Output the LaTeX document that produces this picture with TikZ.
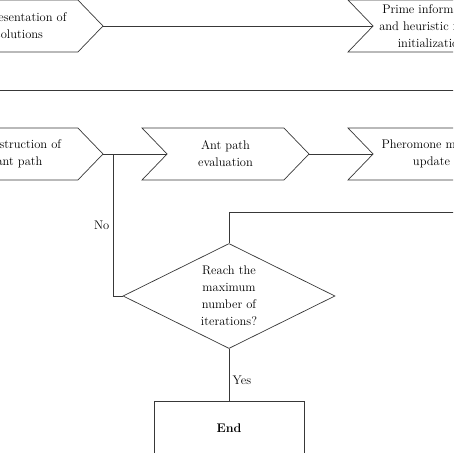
\documentclass[tikz,border=0pt]{standalone}
\usetikzlibrary{shapes.symbols, shapes.geometric}

\tikzset{
  ln/.style={draw=black!78, line width=0.7pt},
  chev/.style={signal, signal to=east, signal from=west, signal pointer angle=92,
    ln, minimum width=167pt, minimum height=52pt, inner sep=0pt, align=center},
  dec/.style={diamond, aspect=2, ln, minimum width=212pt, minimum height=105pt,
    inner sep=0pt, align=center},
  endbox/.style={rectangle, ln, minimum width=150pt, minimum height=54pt},
}

\begin{document}
\begin{tikzpicture}[x=1pt, y=-1pt, font=\fontsize{12.5}{17}\selectfont]
  \useasboundingbox (0,0) rectangle (453,453);
  \clip (0,0) rectangle (453,453);
  % top row
  \node[chev] (rep) at (19.5,26) {Representation of\\solutions};
  \node[chev] (prime) at (431.5,26) {Prime information\\and heuristic factor\\initialization};
  \draw[ln] (rep.east) -- (prime.west);
  \draw[ln] (-10,90) -- (463,90);
  % second row
  \node[chev] (cons) at (19.5,154) {Construction of\\ant path};
  \node[chev] (eval) at (225.5,154) {Ant path\\evaluation};
  \node[chev] (pher) at (431.5,154) {Pheromone matrix\\update};
  \draw[ln] (cons.east) -- (eval.west);
  \draw[ln] (eval.east) -- (pher.west);
  % decision
  \node[dec] (reach) at (229,296) {Reach the\\maximum\\number of\\iterations?};
  \coordinate (fork) at (113,154);
  \coordinate (back) at (463,212);
  \draw[ln] (fork) |- (reach.west) node[pos=0.25, left] {No};
  \draw[ln] (reach.north) |- (back);
  \node[endbox] (end) at (229,428) {\textbf{End}};
  \draw[ln] (reach.south) -- (end.north) node[pos=0.6, right] {Yes};
\end{tikzpicture}
\end{document}
